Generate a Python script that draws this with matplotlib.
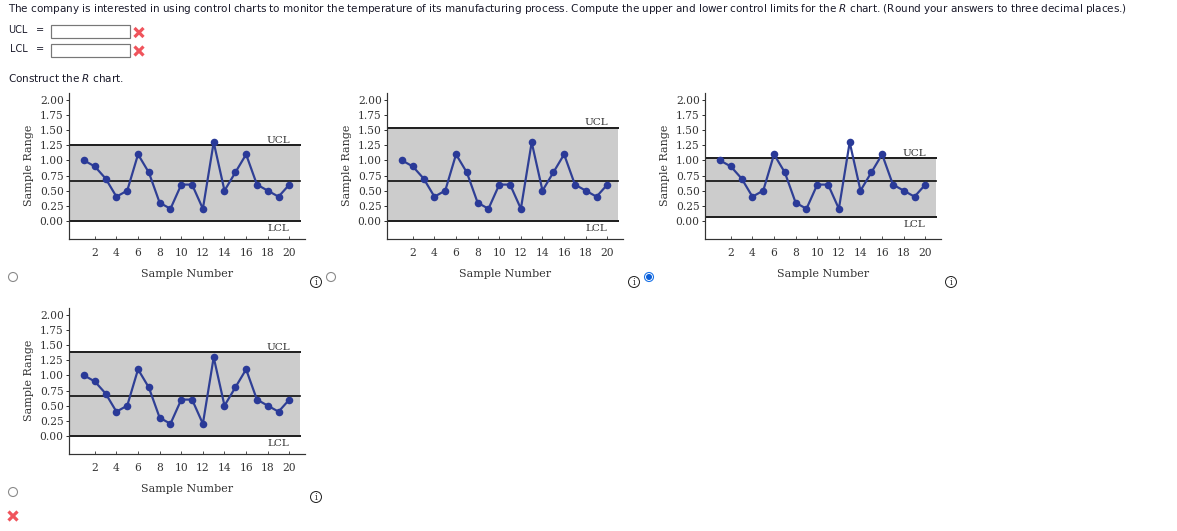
import matplotlib
matplotlib.use("Agg")
import matplotlib.pyplot as plt
from matplotlib.patches import Circle, Rectangle

W, H = 1177, 531
samples = list(range(1, 21))
ranges = [1.0, 0.9, 0.7, 0.4, 0.5, 1.1, 0.8, 0.3, 0.2, 0.6, 0.6, 0.2, 1.3, 0.5, 0.8, 1.1, 0.6, 0.5, 0.4, 0.6]
center_line = 0.66
ucl_values = [1.25, 1.54, 1.04, 1.39]
lcl_values = [0.0, 0.0, 0.07, 0.0]
y_ticks = [0, 0.25, 0.5, 0.75, 1.0, 1.25, 1.5, 1.75, 2.0]
x_ticks = list(range(2, 21, 2))
panel_origins = [(68.7, 93), (386.7, 93), (704.7, 93), (68.7, 308)]
question = ("The company is interested in using control charts to monitor the temperature of its manufacturing process. "
            "Compute the upper and lower control limits for the $\\mathit{R}$ chart. (Round your answers to three decimal places.)")

fig = plt.figure(figsize=(W / 100, H / 100), dpi=100, facecolor="white")
page = fig.add_axes([0, 0, 1, 1])
page.set_xlim(0, W)
page.set_ylim(H, 0)
page.axis("off")

SANS = "DejaVu Sans"
SERIF = "DejaVu Serif"
INK = "#333333"
px = lambda v: v * 0.72
BODY = px(10.41)


def red_x(x, y):
    page.plot([x - 4.5, x + 4.5], [y - 4.5, y + 4.5], color="#f0545c", lw=px(3.2), solid_capstyle="butt")
    page.plot([x - 4.5, x + 4.5], [y + 4.5, y - 4.5], color="#f0545c", lw=px(3.2), solid_capstyle="butt")


def radio(x, y, selected=False):
    page.add_patch(Circle((x, y), 4.5, fc="white", ec="#1a73e8" if selected else "#8a8a8a", lw=px(1.1)))
    if selected:
        page.add_patch(Circle((x, y), 3, fc="#0b5fd8", ec="none"))


def info(x, y):
    page.add_patch(Circle((x, y), 5.5, fc="white", ec="#222222", lw=px(1)))
    page.text(x, y + 0.3, "i", family=SERIF, fontsize=px(9), color="#222222", ha="center", va="center")


page.text(8, 9, question, family=SANS, fontsize=BODY, color="#1a1a2a", va="center", math_fontfamily="dejavusans")
page.text(8, 30, "UCL", family=SANS, fontsize=px(9.75), color="#1a1a2a", va="center")
page.text(10, 49.5, "LCL", family=SANS, fontsize=px(9.75), color="#1a1a2a", va="center")
for y0 in (30, 49.5):
    page.text(36, y0, "=", family=SANS, fontsize=px(9.75), color="#1a1a2a", va="center")
for y0 in (24.5, 43.5):
    page.add_patch(Rectangle((50.5, y0), 79, 13, fc="white", ec="#777777", lw=px(1.2)))
red_x(139, 32.5)
red_x(139, 51)
red_x(13, 516)
page.text(8, 78, "Construct the $\\mathit{R}$ chart.", family=SANS, fontsize=BODY, color="#1a1a2a",
          va="center", math_fontfamily="dejavusans")
for pos, sel in [((13, 277), False), ((331, 277), False), ((649, 277), True), ((13, 492), False)]:
    radio(*pos, selected=sel)
for pos in [(316, 282), (634, 282), (951, 282), (316, 497)]:
    info(*pos)

AXW, AXH = 236.3, 146
for (left, top), ucl, lcl in zip(panel_origins, ucl_values, lcl_values):
    ax = fig.add_axes([left / W, 1 - (top + AXH) / H, AXW / W, AXH / H])
    ax.set_xlim(-0.417, 21.45)
    ax.set_ylim(-0.30, 2.115)
    ax.patch.set_alpha(0)
    for side in ("top", "right"):
        ax.spines[side].set_visible(False)
    for side in ("left", "bottom"):
        ax.spines[side].set_color(INK)
        ax.spines[side].set_linewidth(px(1.2))
    band_end = 21.03
    ax.fill_between([-0.417, band_end], lcl, ucl, color="#cccccc", lw=0, zorder=1)
    ax.plot([-0.417, band_end], [ucl, ucl], color="#222222", lw=px(2), zorder=2)
    ax.plot([-0.417, band_end], [lcl, lcl], color="#222222", lw=px(2), zorder=2)
    ax.plot([-0.417, band_end], [center_line, center_line], color="#111111", lw=px(1.7), zorder=2)
    ax.plot(samples, ranges, color="#2f3f95", lw=px(2.2), marker="o", ms=px(7.6), mfc="#2a3a98", mec="#2a3a98",
            mew=0, zorder=3)
    ax.text(19, ucl + 0.005, "UCL", family=SERIF, fontsize=px(10.4), color=INK, ha="center", va="bottom")
    ax.text(19, lcl - 0.055, "LCL", family=SERIF, fontsize=px(10.4), color=INK, ha="center", va="top")
    ax.set_xticks(x_ticks)
    ax.set_yticks(y_ticks)
    ax.set_yticklabels([f"{v:.2f}" for v in y_ticks])
    ax.tick_params(axis="x", direction="in", length=2.2, width=px(1), color="#555555", pad=6.5,
                   labelsize=px(10.6), labelcolor=INK)
    ax.tick_params(axis="y", direction="out", length=2.4, width=px(1), color=INK, pad=1.2,
                   labelsize=px(10.6), labelcolor=INK)
    for lab in ax.get_xticklabels() + ax.get_yticklabels():
        lab.set_family(SERIF)
    page.text(left + 118, top + 181, "Sample Number", family=SERIF, fontsize=px(11.1), color=INK,
              ha="center", va="center")
    page.text(left - 40, top + 72, "Sample Range", family=SERIF, fontsize=px(11.1), color=INK,
              ha="center", va="center", rotation=90)

fig.savefig("out.png", dpi=100)
